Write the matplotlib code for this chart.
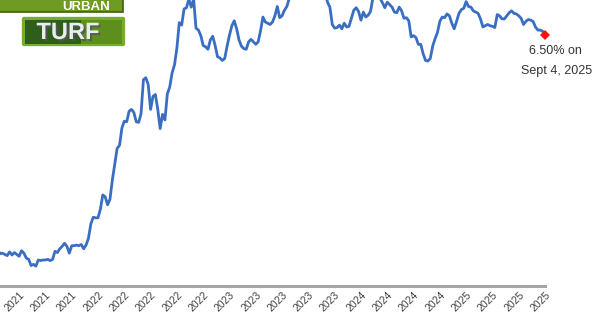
import matplotlib
matplotlib.use("Agg")
import matplotlib.pyplot as plt
import matplotlib.dates as mdates
from matplotlib.patches import Rectangle, FancyBboxPatch
import matplotlib.patheffects as pe
import pandas as pd

# Weekly 30-year fixed mortgage rate (%), Thursdays from 2021-03-04 to 2025-09-04
start_date = "2021-03-04"
rates_2021 = [3.02, 3.05, 3.09, 3.17, 3.18, 3.13, 3.04, 2.97, 2.98, 2.96, 2.94, 3.00,
              2.95, 2.99, 2.96, 2.93, 3.02, 2.98, 2.90, 2.88, 2.78, 2.80, 2.77, 2.87,
              2.86, 2.87, 2.87, 2.88, 2.86, 2.88, 3.01, 2.99, 3.05, 3.09, 3.14, 3.09,
              2.98, 3.10, 3.10, 3.11, 3.10, 3.12, 3.05, 3.11]
rates_2022 = [3.22, 3.45, 3.56, 3.55, 3.55, 3.69, 3.92, 3.89, 3.76, 3.85, 4.16, 4.42,
              4.67, 4.72, 5.00, 5.11, 5.10, 5.27, 5.30, 5.25, 5.10, 5.09, 5.23, 5.78,
              5.81, 5.70, 5.30, 5.51, 5.54, 5.30, 4.99, 5.22, 5.13, 5.55, 5.66, 5.89,
              6.02, 6.29, 6.70, 6.66, 6.92, 6.94, 7.08, 6.95, 7.08, 6.61, 6.58, 6.49,
              6.33, 6.31, 6.27, 6.42]
rates_2023 = [6.48, 6.33, 6.15, 6.13, 6.09, 6.12, 6.32, 6.50, 6.65, 6.73, 6.60, 6.42,
              6.32, 6.28, 6.27, 6.39, 6.43, 6.39, 6.35, 6.39, 6.57, 6.79, 6.71, 6.69,
              6.67, 6.71, 6.81, 6.96, 6.78, 6.81, 6.90, 6.96, 7.09, 7.23, 7.18, 7.12,
              7.18, 7.19, 7.31, 7.49, 7.57, 7.63, 7.79, 7.76, 7.50, 7.44, 7.29, 7.22,
              7.03, 6.95, 6.67, 6.61]
rates_2024 = [6.62, 6.66, 6.60, 6.69, 6.63, 6.64, 6.77, 6.90, 6.94, 6.88, 6.74, 6.87,
              6.79, 6.82, 6.88, 7.10, 7.17, 7.22, 7.09, 7.02, 6.94, 7.03, 6.99, 6.95,
              6.87, 6.86, 6.95, 6.89, 6.77, 6.78, 6.73, 6.47, 6.49, 6.46, 6.35, 6.35,
              6.20, 6.09, 6.08, 6.12, 6.32, 6.44, 6.54, 6.72, 6.79, 6.78, 6.84, 6.81,
              6.69, 6.60, 6.72, 6.85]
rates_2025 = [6.91, 6.93, 7.04, 6.96, 6.95, 6.89, 6.87, 6.85, 6.76, 6.63, 6.65, 6.67,
              6.65, 6.64, 6.62, 6.83, 6.81, 6.76, 6.76, 6.81, 6.86, 6.89, 6.85, 6.84,
              6.81, 6.77, 6.67, 6.72, 6.75, 6.74, 6.72, 6.63, 6.58, 6.58, 6.56, 6.50]

tick_dates = ["2021-06-17", "2021-09-02", "2021-11-18", "2022-02-03", "2022-04-21",
              "2022-07-07", "2022-09-22", "2022-12-08", "2023-02-23", "2023-05-11",
              "2023-07-27", "2023-10-12", "2023-12-28", "2024-03-14", "2024-05-30",
              "2024-08-15", "2024-10-31", "2025-01-16", "2025-04-03", "2025-06-19",
              "2025-09-04"]
tick_labels = ["2021", "2021", "2021", "2022", "2022", "2022", "2022", "2022",
               "2023", "2023", "2023", "2023", "2023", "2024", "2024", "2024", "2024",
               "2025", "2025", "2025", "2025"]

annotation_text = ["6.50% on", "Sept 4, 2025"]

rates = rates_2021 + rates_2022 + rates_2023 + rates_2024 + rates_2025
dates = pd.date_range(start_date, periods=len(rates), freq="7D")

W, H = 600, 315
fig = plt.figure(figsize=(W / 100, H / 100), dpi=100)
fig.patch.set_facecolor("white")

axis_px = 286
ax = fig.add_axes([0, (H - axis_px) / H, 1, axis_px / H])
ax.set_facecolor("none")

line_color = "#3a6ec2"
ax.plot(dates, rates, color=line_color, lw=2.0, solid_joinstyle="round", zorder=3)
ax.plot([dates[-1]], [rates[-1]], marker="D", color="#ff1010", ms=5, zorder=4,
        markeredgewidth=0)

xl = mdates.date2num(pd.Timestamp("2021-04-25"))
xr = mdates.date2num(pd.Timestamp("2026-02-12"))
ax.set_xlim(xl, xr)
ax.set_ylim(2.45, 7.065)

for s in ["left", "top", "right"]:
    ax.spines[s].set_visible(False)
ax.spines["bottom"].set_color("#a6a6a6")
ax.spines["bottom"].set_linewidth(2.2)
ax.spines["bottom"].set_bounds(xl, mdates.date2num(dates[-1]))
ax.set_yticks([])

tick_pos = pd.to_datetime(tick_dates)
ax.set_xticks(mdates.date2num(tick_pos))
ax.set_xticklabels(tick_labels, rotation=45, ha="right", va="top",
                   rotation_mode="anchor", fontsize=7.5, color="#404040",
                   family="Liberation Sans")
ax.tick_params(axis="x", length=0, pad=2.5)
ax.set_xticks(mdates.date2num(dates[7:]), minor=True)
ax.tick_params(axis="x", which="minor", length=2, width=0.6, color="#d0d0d0",
               direction="inout")

# annotation for last point
ax.annotate(annotation_text[0], xy=(mdates.date2num(dates[-1]), rates[-1]),
            xytext=(10, -16), textcoords="offset pixels", ha="center", va="center",
            fontsize=9, color="#333333", family="Liberation Sans")
ax.annotate(annotation_text[1], xy=(mdates.date2num(dates[-1]), rates[-1]),
            xytext=(12, -36), textcoords="offset pixels", ha="center", va="center",
            fontsize=9, color="#333333", family="Liberation Sans")

# Logo (UrbanTurf sign) drawn in pixel coordinates
lg = fig.add_axes([0, 0, 1, 1])
lg.set_xlim(0, W)
lg.set_ylim(H, 0)
lg.axis("off")
lg.set_zorder(5)
lg.add_patch(Rectangle((-5, -12), 128, 24, facecolor="#6f9a24", edgecolor="#3f5f16",
                       lw=1.2))
lg.text(86, 1.5, "URBAN", ha="center", va="top", fontsize=9.5, fontweight="bold",
        color="white", family="Liberation Sans")
lg.add_patch(FancyBboxPatch((21, 16), 105, 31, boxstyle="round,pad=0,rounding_size=3",
                            facecolor="#77ad2a", edgecolor="#ffffff", lw=1.2))
lg.add_patch(Rectangle((25, 19.5), 56, 24, facecolor="#2f5e1c", edgecolor="none"))
lg.add_patch(Rectangle((81, 19.5), 41, 24, facecolor="#5d8f1f", edgecolor="none"))
lg.text(68, 32.5, "TURF", ha="center", va="center", fontsize=17, fontweight="bold",
        color="#e8eef0", family="Liberation Sans",
        path_effects=[pe.withSimplePatchShadow(offset=(1.5, -1.5),
                                               shadow_rgbFace="#555555", alpha=0.8)])

fig.savefig("out.png", dpi=100, facecolor="white")
